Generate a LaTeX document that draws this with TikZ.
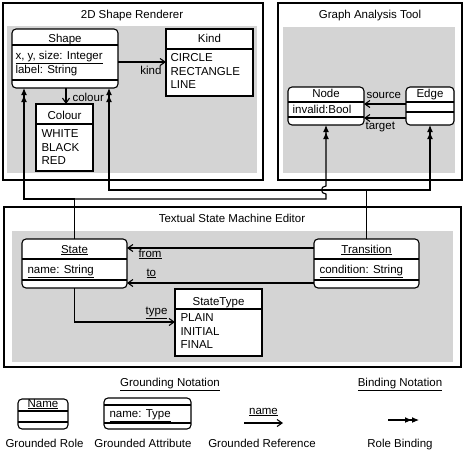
\documentclass[tikz,border=0pt]{standalone}
\usepackage{fontspec}
\setmainfont{Liberation Sans}
\usetikzlibrary{arrows.meta}

\begin{document}
\begin{tikzpicture}[x=1pt, y=-1pt, line width=1.1pt, font=\fontsize{11.5}{13.8}\selectfont]
  \tikzstyle{frame}=[draw, anchor=north west, inner sep=0pt, outer sep=0pt]
  \tikzstyle{shade}=[fill=black!17, anchor=north west, inner sep=0pt, outer sep=0pt]
  \tikzstyle{role}=[draw, fill=white, rounded corners=4pt, anchor=north west, inner sep=0pt, outer sep=0pt]
  \tikzstyle{enum}=[draw, fill=white, anchor=north west, inner sep=0pt, outer sep=0pt]
  \tikzstyle{txt}=[inner sep=0pt, anchor=base]
  \tikzstyle{ltxt}=[inner sep=0pt, anchor=base west]
  \tikzstyle{ref}=[-{Straight Barb[length=5pt,width=7pt]}]
  \tikzstyle{bind}=[-{Latex[length=7pt,width=6pt]Latex[length=7pt,width=6pt]}]

  \useasboundingbox (0,0) rectangle (474,453);

  % the three tools
  \node[frame, minimum width=260pt, minimum height=177pt] (renderer) at (3,3) {};
  \node[shade, minimum width=250pt, minimum height=147pt] (renderer-bg) at (7,26) {};
  \node[txt] (renderer-t) at (132,18) {2D Shape Renderer};

  \node[frame, minimum width=184pt, minimum height=177pt] (analysis) at (278,3) {};
  \node[shade, minimum width=172pt, minimum height=146pt] (analysis-bg) at (283,27) {};
  \node[txt] (analysis-t) at (370,18) {Graph Analysis Tool};

  \node[frame, minimum width=457pt, minimum height=160pt] (editor) at (4,207) {};
  \node[shade, minimum width=441pt, minimum height=131pt] (editor-bg) at (12,231) {};
  \node[txt] (editor-t) at (232,222) {Textual State Machine Editor};

  % 2D Shape Renderer
  \node[role, minimum width=106pt, minimum height=59pt] (shape) at (12,29) {};
  \node[txt] (shape-t) at (65,42) {Shape};
  \draw (shape.west |- 0,45) -- (shape.east |- 0,45);
  \draw (shape.west |- 0,80) -- (shape.east |- 0,80);
  \node[ltxt] (shape-a1) at (15,59) {\underline{x, y, size: Integer}};
  \node[ltxt] (shape-a2) at (15,73) {label: String};

  \node[enum, minimum width=87pt, minimum height=67pt] (kind) at (166,29) {};
  \node[txt] (kind-t) at (209.5,42) {Kind};
  \draw (kind.west |- 0,49) -- (kind.east |- 0,49);
  \foreach \lit/\y in {CIRCLE/61, RECTANGLE/75, LINE/88}
    \node[ltxt] (kind-\lit) at (170,\y) {\lit};

  \node[enum, minimum width=57pt, minimum height=67pt] (colour) at (36,104) {};
  \node[txt] (colour-t) at (64.5,119) {Colour};
  \draw (colour.west |- 0,124) -- (colour.east |- 0,124);
  \foreach \lit/\y in {WHITE/137, BLACK/151, RED/164}
    \node[ltxt] (colour-\lit) at (41,\y) {\lit};

  \draw[ref] (shape.east |- 0,62) -- (kind.west |- 0,62)
    node[pos=1, anchor=base east, inner sep=0pt, xshift=-4pt, yshift=-12pt] {kind};
  \draw[ref] (shape.south -| 66,0) -- (colour.north -| 66,0)
    node[pos=1, anchor=base west, inner sep=0pt, xshift=6pt, yshift=3pt] {colour};

  % Graph Analysis Tool
  \node[role, minimum width=76pt, minimum height=38pt] (gnode) at (288,87) {};
  \node[txt] (gnode-t) at (326,97) {Node};
  \draw (gnode.west |- 0,102) -- (gnode.east |- 0,102);
  \draw (gnode.west |- 0,117) -- (gnode.east |- 0,117);
  \node[ltxt] (gnode-a) at (292,113) {invalid:Bool};

  \node[role, minimum width=48pt, minimum height=38pt] (gedge) at (406,87) {};
  \node[txt] (gedge-t) at (430,97) {Edge};
  \draw (gedge.west |- 0,102) -- (gedge.east |- 0,102);
  \draw (gedge.west |- 0,112) -- (gedge.east |- 0,112);

  \draw[ref] (gedge.west |- 0,104) -- (gnode.east |- 0,104)
    node[pos=1, anchor=base west, inner sep=0pt, xshift=2pt, yshift=6pt] {source};
  \draw[ref] (gedge.west |- 0,118) -- (gnode.east |- 0,118)
    node[pos=1, anchor=base west, inner sep=0pt, xshift=1pt, yshift=-11pt] {target};

  % Textual State Machine Editor
  \node[role, minimum width=105pt, minimum height=49pt] (state) at (22,239) {};
  \node[txt] (state-t) at (74.5,253) {\underline{State}};
  \draw (state.west |- 0,259) -- (state.east |- 0,259);
  \draw (state.west |- 0,280) -- (state.east |- 0,280);
  \node[ltxt] (state-a) at (27,273) {\underline{name: String}};

  \node[role, minimum width=105pt, minimum height=49pt] (transition) at (314,239) {};
  \node[txt] (transition-t) at (366.5,253) {\underline{Transition}};
  \draw (transition.west |- 0,259) -- (transition.east |- 0,259);
  \draw (transition.west |- 0,280) -- (transition.east |- 0,280);
  \node[ltxt] (transition-a) at (319,273) {\underline{condition: String}};

  \node[enum, minimum width=87pt, minimum height=67pt] (stype) at (175,289) {};
  \node[txt] (stype-t) at (218.5,305) {StateType};
  \draw (stype.west |- 0,309) -- (stype.east |- 0,309);
  \foreach \lit/\y in {PLAIN/321, INITIAL/335, FINAL/348}
    \node[ltxt] (stype-\lit) at (180,\y) {\lit};

  \draw[ref] (transition.west |- 0,248) -- (state.east |- 0,248)
    node[pos=1, anchor=base west, inner sep=0pt, xshift=11pt, yshift=-9pt] {\underline{from}};
  \draw[ref] (transition.west |- 0,283) -- (state.east |- 0,283)
    node[pos=1, anchor=base west, inner sep=0pt, xshift=19pt, yshift=7pt] {\underline{to}};
  \draw[ref] (state.south) |- (stype.west |- 0,322)
    node[pos=1, anchor=base east, inner sep=0pt, xshift=-7pt, yshift=8pt] {\underline{type}};

  % role bindings
  \coordinate (tj) at (transition.north |- 0,190);
  \coordinate (sj) at (state.north |- 0,199);
  \draw[bind] (transition.north) -- (tj) -| ([xshift=-9pt]shape.south east);
  \draw[bind] (tj) -| (gedge.south);
  \draw[bind] (state.north) -- (sj) -| ([xshift=12pt]shape.south west);
  \draw[bind] (sj) -- (326,199) -- (326,194) .. controls (320,194) and (320,186) .. (326,186) -- (gnode.south);

  % notation
  \node[txt] (grounding) at (170,386) {\underline{Grounding Notation}};
  \node[txt] (binding) at (400,386) {\underline{Binding Notation}};

  \node[role, minimum width=50pt, minimum height=30pt] (grole) at (18,399) {};
  \node[txt] (grole-t) at (43,407) {\underline{Name}};
  \draw (grole.west |- 0,411) -- (grole.east |- 0,411);
  \draw (grole.west |- 0,422) -- (grole.east |- 0,422);
  \node[txt] (grole-l) at (44.5,447) {Grounded Role};

  \node[role, minimum width=87pt, minimum height=31pt] (gattr) at (104,398) {};
  \draw (gattr.west |- 0,405) -- (gattr.east |- 0,405);
  \draw (gattr.west |- 0,423) -- (gattr.east |- 0,423);
  \node[ltxt] (gattr-a) at (109,417) {\underline{name: Type}};
  \node[txt] (gattr-l) at (143,447) {Grounded Attribute};

  \coordinate (gref-a) at (244,423);
  \coordinate (gref-b) at (283,423);
  \draw[ref] (gref-a) -- (gref-b)
    node[midway, anchor=base, inner sep=0pt, yshift=9pt] {\underline{name}};
  \node[txt] (gref-l) at (262,447) {Grounded Reference};

  \coordinate (rbind-a) at (388,420);
  \coordinate (rbind-b) at (419,420);
  \draw[bind] (rbind-a) -- (rbind-b);
  \node[txt] (rbind-l) at (400,447) {Role Binding};
\end{tikzpicture}
\end{document}
